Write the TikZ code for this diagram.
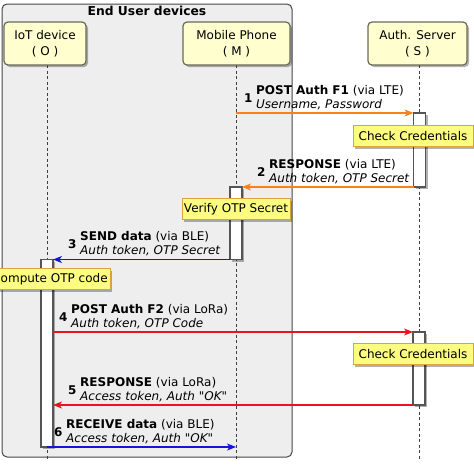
\documentclass[tikz,border=0pt]{standalone}
\usepackage{fontspec}
\setmainfont{DejaVu Sans}[Ligatures=TeXOff]
\usetikzlibrary{arrows.meta,shadows}
\definecolor{hdrfill}{HTML}{FEFECE}
\definecolor{hdrdraw}{HTML}{6A6A5A}
\definecolor{grpfill}{HTML}{EEEEEE}
\definecolor{grpdraw}{HTML}{454545}
\definecolor{notefill}{HTML}{FCFC80}
\definecolor{notedraw}{HTML}{D9A43A}
\definecolor{actdraw}{HTML}{555555}
\definecolor{lifec}{HTML}{404040}
\definecolor{orangec}{HTML}{F7821B}
\definecolor{bluec}{HTML}{1414DC}
\definecolor{redc}{HTML}{E8141E}
\begin{document}
\begin{tikzpicture}[x=1pt,y=-1pt,
  shad/.style={drop shadow={shadow xshift=2pt,shadow yshift=-2pt,opacity=0.3,fill=black}},
  grp/.style={draw=grpdraw,fill=grpfill,line width=1pt,rounded corners=5pt,inner sep=0pt,outer sep=0pt},
  hdr/.style={draw=hdrdraw,fill=hdrfill,line width=1.2pt,rounded corners=4pt,minimum height=43pt,
    inner sep=0pt,align=center,font=\fontsize{12}{16}\selectfont,shad},
  life/.style={draw=lifec,line width=0.8pt,dash pattern=on 3pt off 2.5pt},
  act/.style={draw=actdraw,fill=white,line width=1.2pt,minimum width=12pt,inner sep=0pt,outer sep=0pt,shad},
  note/.style={draw=notedraw,fill=notefill,line width=1pt,minimum height=21pt,inner sep=0pt,
    font=\fontsize{12}{14}\selectfont,shad},
  msgarrow/.style={line width=1.2pt,-{Stealth[length=9pt,width=7pt,inset=2.5pt]}},
  lbl/.style={anchor=base west,inner sep=0pt,font=\fontsize{12}{14}\selectfont},
  num/.style={anchor=base west,inner sep=0pt,font=\fontsize{12}{14}\selectfont\bfseries}]
\useasboundingbox (0,0) rectangle (474,474);
% group box
\node[grp,minimum width=290pt,minimum height=453pt,anchor=north west] (grp) at (2,4) {};
\node[anchor=base,inner sep=0pt,font=\fontsize{12.3}{14}\selectfont\bfseries] (grptitle) at (147,15.5) {End User devices};
% lifelines
\coordinate (eO) at (47,460);
\coordinate (eM) at (236,460);
\coordinate (eS) at (419,460);
\coordinate (tO) at (47,65);
\coordinate (tM) at (236,65);
\coordinate (tS) at (419,65);
\draw[life] (tO) -- (eO);
\draw[life] (tM) -- (eM);
\draw[life] (tS) -- (eS);
% headers
\node[hdr,minimum width=82pt] (hO) at (45,43.5) {IoT device\\( O )};
\node[hdr,minimum width=107pt] (hM) at (236.5,43.5) {Mobile Phone\\( M )};
\node[hdr,minimum width=99pt] (hS) at (417.5,43.5) {Auth. Server\\( S )};
% activations
\node[act,minimum height=74pt] (a1) at (419.5,150) {};
\node[act,minimum height=72.5pt] (a2) at (236,223.25) {};
\node[act,minimum height=187.5pt] (a3) at (47,353.25) {};
\node[act,minimum height=73pt] (a4) at (419,368.5) {};
% notes
\node[note,minimum width=120pt] (n1) at (413,136) {Check Credentials};
\node[note,minimum width=108pt] (n2) at (236,209) {Verify OTP Secret};
\node[note,minimum width=120pt] (n3) at (50,279) {Compute OTP code};
\node[note,minimum width=120pt] (n4) at (413,354) {Check Credentials};
% messages
\draw[msgarrow,orangec] (eM |- a1.north) -- (a1.north west);
\draw[msgarrow,orangec] (a1.south west) -- (a2.north east);
\draw[msgarrow,bluec] (a2.south west) -- (a3.north east);
\draw[msgarrow,redc] (a3.east |- a4.north) -- (a4.north west);
\draw[msgarrow,redc] (a4.south west) -- (a3.east |- a4.south);
\draw[msgarrow,bluec] (a3.south) -- (eM |- a3.south);
% labels
\node[num] (k1) at (244,102) {1};
\node[lbl] (l1a) at (256,94) {\textbf{POST Auth F1} (via LTE)};
\node[lbl] (l1b) at (256,108) {\textit{Username, Password}};
\node[num] (k2) at (257,176) {2};
\node[lbl] (l2a) at (269,168) {\textbf{RESPONSE} (via LTE)};
\node[lbl] (l2b) at (269,182) {\textit{Auth token, OTP Secret}};
\node[num] (k3) at (68,248.5) {3};
\node[lbl] (l3a) at (80,240.5) {\textbf{SEND data} (via BLE)};
\node[lbl] (l3b) at (80,254.5) {\textit{Auth token, OTP Secret}};
\node[num] (k4) at (59,321) {4};
\node[lbl] (l4a) at (71,313) {\textbf{POST Auth F2} (via LoRa)};
\node[lbl] (l4b) at (71,327) {\textit{Auth token, OTP Code}};
\node[num] (k5) at (68,394) {5};
\node[lbl] (l5a) at (80,386) {\textbf{RESPONSE} (via LoRa)};
\node[lbl] (l5b) at (80,400) {\textit{Access token, Auth "OK"}};
\node[num] (k6) at (54,436) {6};
\node[lbl] (l6a) at (66,428) {\textbf{RECEIVE data} (via BLE)};
\node[lbl] (l6b) at (66,442) {\textit{Access token, Auth "OK"}};
\end{tikzpicture}
\end{document}
